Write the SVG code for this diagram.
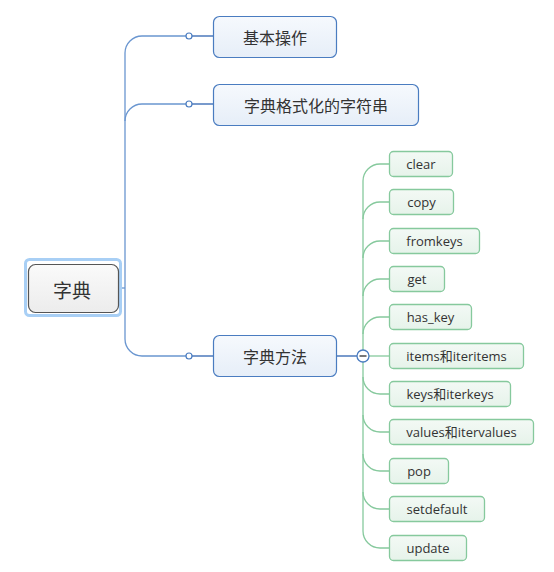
<svg xmlns="http://www.w3.org/2000/svg" width="554" height="572" viewBox="0 0 554 572">
<defs>
<linearGradient id="gBlue" x1="0" y1="0" x2="0" y2="1"><stop offset="0" stop-color="#f6f9fd"/><stop offset="1" stop-color="#e6eef8"/></linearGradient>
<linearGradient id="gGreen" x1="0" y1="0" x2="0" y2="1"><stop offset="0" stop-color="#f3f9f5"/><stop offset="1" stop-color="#e6f3ea"/></linearGradient>
<linearGradient id="gRoot" x1="0" y1="0" x2="0" y2="1"><stop offset="0" stop-color="#fafafa"/><stop offset="1" stop-color="#ececec"/></linearGradient>
</defs>
<style>
.bl{fill:none;stroke:#6a96d0;stroke-width:1.3}
.bd{fill:none;stroke:#2f64b0;stroke-width:1.3}
.gl{fill:none;stroke:#86c99d;stroke-width:1.3}
.dot{fill:#fff;stroke:#4a7cc0;stroke-width:1.2}
.bn{fill:url(#gBlue);stroke:#4a7cc0;stroke-width:1.2}
.gn{fill:url(#gGreen);stroke:#86c99d;stroke-width:1.3}
.zh{font-family:"Noto Sans CJK SC","Noto Sans",sans-serif;font-size:16px;fill:#333;text-anchor:middle;dominant-baseline:central}
.en{font-family:"Open Sans","Noto Sans CJK SC",sans-serif;font-size:13px;fill:#333;text-anchor:middle;dominant-baseline:central}
</style>
<g id="connectors">
<path class="bl" d="M118,288 H125"/>
<path class="bl" d="M125,288 V53 A17,17 0 0 1 142,36 H186"/>
<path class="bl" d="M125,121 A17,17 0 0 1 142,104 H186"/>
<path class="bl" d="M125,288 V339 A17,17 0 0 0 142,356 H186"/>
<path class="bd" d="M192,36 H213"/>
<path class="bd" d="M192,104 H213"/>
<path class="bd" d="M192,356 H213"/>
<circle class="dot" cx="189" cy="36" r="3"/>
<circle class="dot" cx="189" cy="104" r="3"/>
<circle class="dot" cx="189" cy="356" r="3"/>
<path class="bd" d="M337,356 H357"/>
<path class="gl" d="M363,181 V531"/>
<path class="gl" d="M363,181 A17,17 0 0 1 380,164 H389"/>
<path class="gl" d="M363,219 A17,17 0 0 1 380,202 H389"/>
<path class="gl" d="M363,258 A17,17 0 0 1 380,241 H389"/>
<path class="gl" d="M363,296 A17,17 0 0 1 380,279 H389"/>
<path class="gl" d="M363,334 A17,17 0 0 1 380,317 H389"/>
<path class="gl" d="M369,356 H389"/>
<path class="gl" d="M363,377 A17,17 0 0 0 380,394 H389"/>
<path class="gl" d="M363,415 A17,17 0 0 0 380,432 H389"/>
<path class="gl" d="M363,454 A17,17 0 0 0 380,471 H389"/>
<path class="gl" d="M363,492 A17,17 0 0 0 380,509 H389"/>
<path class="gl" d="M363,531 A17,17 0 0 0 380,548 H389"/>
<circle cx="363" cy="356" r="6" fill="#fff" stroke="#4a7cc0" stroke-width="1.3"/>
<path d="M359.5,356 H366.5" stroke="#555" stroke-width="1.6"/>
</g>
<g id="root">
<rect x="25.5" y="259.5" width="95" height="56" rx="4" fill="none" stroke="#a8cff5" stroke-width="3"/>
<rect x="28.5" y="264.5" width="90" height="48" rx="7" fill="url(#gRoot)" stroke="#555" stroke-width="1.2"/>
<text x="72" y="289" class="zh" style="font-size:19px">字典</text>
</g>
<g id="n1"><rect class="bn" x="213.5" y="16.5" width="123" height="41" rx="6"/><text class="zh" x="275" y="37">基本操作</text></g>
<g id="n2"><rect class="bn" x="213.5" y="84.5" width="205" height="41" rx="6"/><text class="zh" x="316" y="105">字典格式化的字符串</text></g>
<g id="n3"><rect class="bn" x="213.5" y="335.5" width="123" height="41" rx="6"/><text class="zh" x="275" y="356">字典方法</text></g>
<g id="c1"><rect class="gn" x="389.5" y="151.5" width="63" height="25" rx="4"/><text class="en" x="421" y="164">clear</text></g>
<g id="c2"><rect class="gn" x="389.5" y="189.5" width="64" height="25" rx="4"/><text class="en" x="421.5" y="202">copy</text></g>
<g id="c3"><rect class="gn" x="389.5" y="228.5" width="90" height="25" rx="4"/><text class="en" x="434.5" y="241">fromkeys</text></g>
<g id="c4"><rect class="gn" x="389.5" y="266.5" width="55" height="25" rx="4"/><text class="en" x="417" y="279">get</text></g>
<g id="c5"><rect class="gn" x="389.5" y="304.5" width="82" height="25" rx="4"/><text class="en" x="430.5" y="317">has_key</text></g>
<g id="c6"><rect class="gn" x="389.5" y="343.5" width="134" height="25" rx="4"/><text class="en" x="456.5" y="356">items和iteritems</text></g>
<g id="c7"><rect class="gn" x="389.5" y="381.5" width="121" height="25" rx="4"/><text class="en" x="450" y="394">keys和iterkeys</text></g>
<g id="c8"><rect class="gn" x="389.5" y="419.5" width="144" height="25" rx="4"/><text class="en" x="461.5" y="432">values和itervalues</text></g>
<g id="c9"><rect class="gn" x="389.5" y="458.5" width="59" height="25" rx="4"/><text class="en" x="419" y="471">pop</text></g>
<g id="c10"><rect class="gn" x="389.5" y="496.5" width="95" height="25" rx="4"/><text class="en" x="437" y="509">setdefault</text></g>
<g id="c11"><rect class="gn" x="389.5" y="535.5" width="77" height="25" rx="4"/><text class="en" x="428" y="548">update</text></g>
</svg>
